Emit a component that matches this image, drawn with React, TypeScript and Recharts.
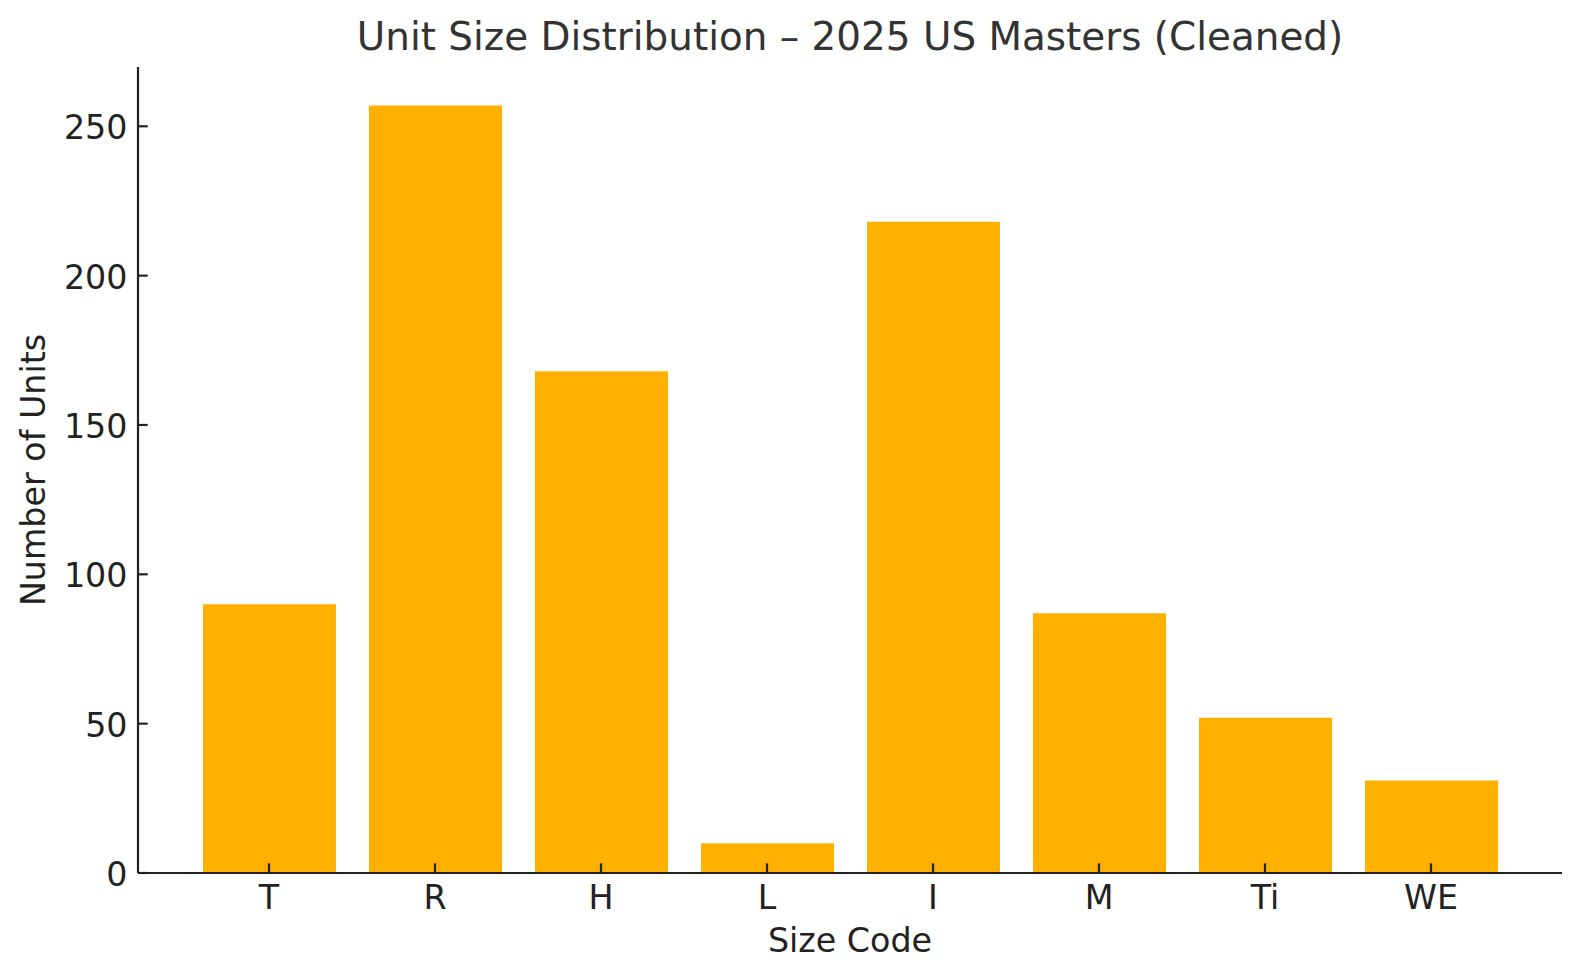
import React from 'react';
import { BarChart, Bar, XAxis, YAxis } from 'recharts';

const categories = ['T', 'R', 'H', 'L', 'I', 'M', 'Ti', 'WE'];
const unitCounts = [90, 257, 168, 10, 218, 87, 52, 31];
const yTicks = [0, 50, 100, 150, 200, 250];
const yMax = 269.85;

const chartTitle = 'Unit Size Distribution – 2025 US Masters (Cleaned)';
const xLabel = 'Size Code';
const yLabel = 'Number of Units';

const data = categories.map((c, i) => ({ code: c, units: unitCounts[i] }));

const FONT = '"DejaVu Sans", Verdana, sans-serif';
const INK = '#222222';
const TICK_FS = 33.3;

const XTick = (props: any) => {
  const { x, y, payload } = props;
  return (
    <g>
      <line x1={x} x2={x} y1={y} y2={y - 9.7} stroke={INK} strokeWidth={2.2} />
      <text x={x} y={y + 36.3} textAnchor="middle" fontSize={TICK_FS} fontFamily={FONT} fill={INK}>
        {payload.value}
      </text>
    </g>
  );
};

const YTick = (props: any) => {
  const { x, y, payload } = props;
  return (
    <g>
      <line x1={x} x2={x + 9.7} y1={y} y2={y} stroke={INK} strokeWidth={2.2} />
      <text x={x - 10.5} y={y + 13} textAnchor="end" fontSize={TICK_FS} fontFamily={FONT} fill={INK}>
        {payload.value}
      </text>
    </g>
  );
};

export default function App() {
  return (
    <div style={{ position: 'absolute', left: 0, top: 0, width: 1580, height: 980, background: '#ffffff' }}>
      <BarChart
        width={1580}
        height={980}
        data={data}
        margin={{ top: 67, right: 18, bottom: 47, left: 38 }}
      >
        <XAxis
          dataKey="code"
          height={60}
          padding={{ left: 48, right: 48 }}
          interval={0}
          tickSize={0}
          tickMargin={0}
          tickLine={false}
          tick={XTick}
          axisLine={{ stroke: INK, strokeWidth: 2.2 }}
        />
        <YAxis
          type="number"
          width={100}
          domain={[0, yMax]}
          ticks={yTicks}
          interval={0}
          tickSize={0}
          tickMargin={0}
          tickLine={false}
          tick={YTick}
          axisLine={{ stroke: INK, strokeWidth: 2.2 }}
        />
        <Bar dataKey="units" fill="#FFB000" barSize={133} isAnimationActive={false} />
        <text x={850} y={50} textAnchor="middle" fontSize={38.9} fontFamily={FONT} fill="#333333">
          {chartTitle}
        </text>
        <text x={850} y={952} textAnchor="middle" fontSize={TICK_FS} fontFamily={FONT} fill={INK}>
          {xLabel}
        </text>
        <text
          x={0}
          y={0}
          transform="translate(45,470) rotate(-90)"
          textAnchor="middle"
          fontSize={TICK_FS}
          fontFamily={FONT}
          fill={INK}
        >
          {yLabel}
        </text>
      </BarChart>
    </div>
  );
}
